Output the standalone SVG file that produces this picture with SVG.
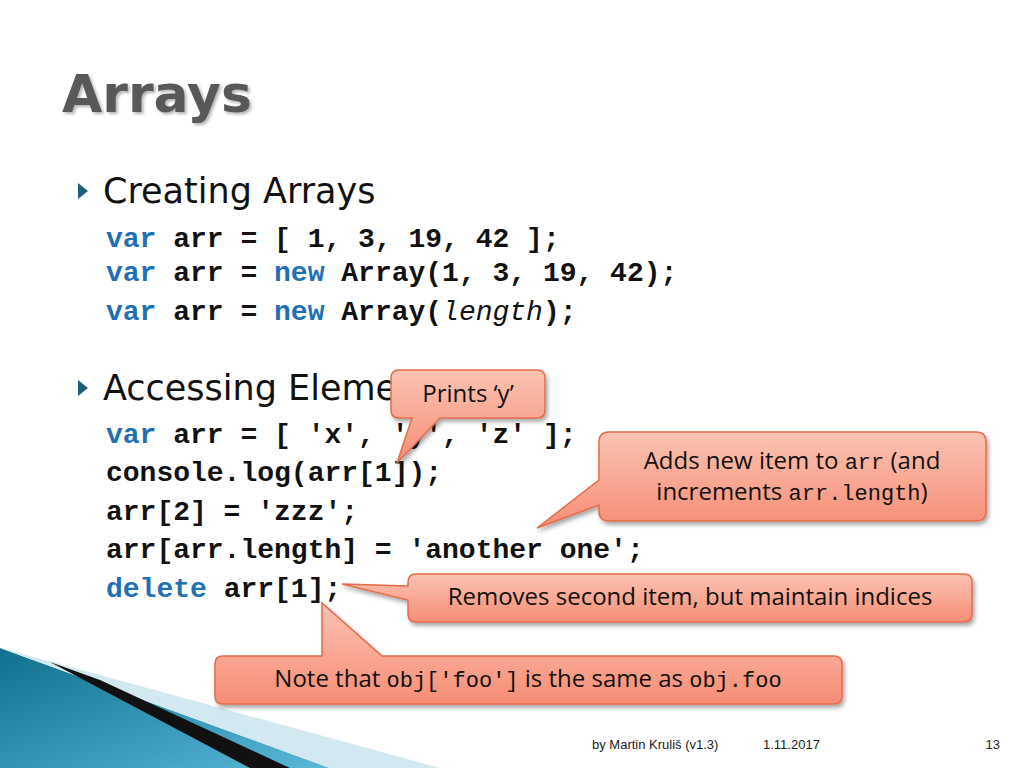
<svg xmlns="http://www.w3.org/2000/svg" width="1024" height="768" viewBox="0 0 1024 768">
<defs>
<linearGradient id="cg" x1="0" y1="0" x2="0" y2="1"><stop offset="0" stop-color="#fbc3b3"/><stop offset="1" stop-color="#f78d75"/></linearGradient>
<linearGradient id="bg" x1="0" y1="0" x2="1" y2="1"><stop offset="0" stop-color="#0f6f8c"/><stop offset="1" stop-color="#5ab8d8"/></linearGradient>
<filter id="sh" x="-10%" y="-10%" width="130%" height="140%"><feDropShadow dx="2" dy="3" stdDeviation="2" flood-color="#000" flood-opacity="0.35"/></filter>
<filter id="ts"><feDropShadow dx="2" dy="2" stdDeviation="1.5" flood-color="#000" flood-opacity="0.3"/></filter>
<style>
.code{font-family:"Liberation Mono",monospace;font-size:28px;font-weight:bold;fill:#111}
.kw{fill:#1f6fb5}
.h{font-family:"DejaVu Sans",Verdana,sans-serif;font-size:35px;fill:#111}
.c{font-family:"Open Sans","Liberation Sans",sans-serif;font-size:24px;fill:#111}
.m{font-family:"Liberation Mono",monospace;font-size:22px}
.co{fill:url(#cg);stroke:#e46c4a;stroke-width:1.5;filter:url(#sh)}
</style>
</defs>
<rect width="1024" height="768" fill="#fff"/>
<polygon points="0,648 330,768 0,768" fill="url(#bg)"/>
<polygon points="0,648 60,664 440,768 330,768" fill="#d2e9f2"/>
<polygon points="50,662 100,680 290,768 250,768" fill="#111"/>
<text x="62" y="112" font-family="'DejaVu Sans',Verdana,sans-serif" font-size="52" font-weight="600" fill="#595959" filter="url(#ts)">Arrays</text>
<polygon points="78,183 88,191 78,199" fill="#1d5f7a"/>
<text x="103" y="203" class="h">Creating Arrays</text>
<text x="106" y="247" class="code"><tspan class="kw">var</tspan> arr = [ 1, 3, 19, 42 ];</text>
<text x="106" y="281" class="code"><tspan class="kw">var</tspan> arr = <tspan class="kw">new</tspan> Array(1, 3, 19, 42);</text>
<text x="106" y="320" class="code"><tspan class="kw">var</tspan> arr = <tspan class="kw">new</tspan> Array(<tspan font-style="italic" font-weight="normal">length</tspan>);</text>
<polygon points="78,380 88,388 78,396" fill="#1d5f7a"/>
<text x="103" y="400" class="h">Accessing Elements</text>
<text x="106" y="443" class="code"><tspan class="kw">var</tspan> arr = [ 'x', 'y', 'z' ];</text>
<text x="106" y="481" class="code">console.log(arr[1]);</text>
<text x="106" y="520" class="code">arr[2] = 'zzz';</text>
<text x="106" y="558" class="code">arr[arr.length] = 'another one';</text>
<text x="106" y="597" class="code"><tspan class="kw">delete</tspan> arr[1];</text>
<g id="n1"><path class="co" d="M399,370 H537 Q545,370 545,378 V410 Q545,418 537,418 H440 L397,463 L412,418 H399 Q391,418 391,410 V378 Q391,370 399,370 Z"/>
<text x="468" y="402" class="c" text-anchor="middle">Prints ‘y’</text></g>
<g id="n2"><path class="co" d="M609,432 H976 Q986,432 986,442 V511 Q986,521 976,521 H609 Q599,521 599,511 V505 L537,528 L599,480 V442 Q599,432 609,432 Z"/>
<text x="792" y="469" class="c" text-anchor="middle">Adds new item to <tspan class="m">arr</tspan> (and</text>
<text x="792" y="500" class="c" text-anchor="middle">increments <tspan class="m">arr.length</tspan>)</text></g>
<g id="n3"><path class="co" d="M416,574 H964 Q972,574 972,582 V614 Q972,622 964,622 H416 Q408,622 408,614 V600 L342,584 L408,586 V582 Q408,574 416,574 Z"/>
<text x="690" y="605" class="c" text-anchor="middle">Removes second item, but maintain indices</text></g>
<g id="n4"><path class="co" d="M223,656 H322 L322,603 L382,656 H834 Q842,656 842,664 V696 Q842,704 834,704 H223 Q215,704 215,696 V664 Q215,656 223,656 Z"/>
<text x="528" y="687" class="c" text-anchor="middle">Note that <tspan class="m">obj['foo']</tspan> is the same as <tspan class="m">obj.foo</tspan></text></g>
<text x="592" y="749" font-family="'Liberation Sans',sans-serif" font-size="13" fill="#222">by Martin Kruliš (v1.3)</text>
<text x="763" y="749" font-family="'Liberation Sans',sans-serif" font-size="13" fill="#222">1.11.2017</text>
<text x="1000" y="749" font-family="'Liberation Sans',sans-serif" font-size="13" fill="#222" text-anchor="end">13</text>
</svg>
